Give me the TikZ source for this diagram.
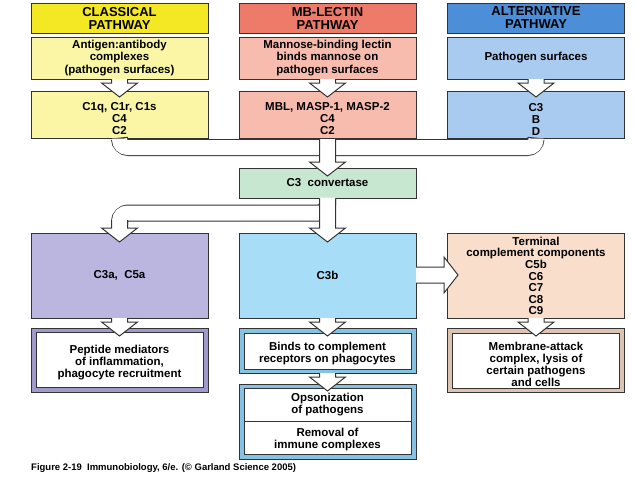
\documentclass[tikz,border=0pt]{standalone}
\usepackage{fontspec}
\setmainfont{Liberation Sans}
\begin{document}
\begin{tikzpicture}[x=1pt,y=-1pt,
 box/.style={draw=black!80,line width=1pt,minimum width=177pt,align=center,font=\bfseries\fontsize{11.5}{12.5}\selectfont,inner sep=1pt},
 hdr/.style={box,font=\bfseries\fontsize{13}{13}\selectfont,minimum height=30pt},
 txt/.style={align=center,font=\bfseries\fontsize{11.5}{12}\selectfont,inner sep=0pt},
 frame/.style={draw=black!80,line width=1pt,minimum width=177pt},
 inner/.style={draw=black!80,line width=0.8pt,fill=white,minimum width=167pt,align=center,font=\bfseries\fontsize{11.5}{12.5}\selectfont,inner sep=1pt}]
\definecolor{yh}{HTML}{F4E824}\definecolor{yl}{HTML}{FAF6A6}
\definecolor{rh}{HTML}{EE7B6A}\definecolor{rl}{HTML}{F8BCAE}
\definecolor{bh}{HTML}{4C8ED8}\definecolor{bl}{HTML}{AACBF0}
\definecolor{gl}{HTML}{C7E7D1}\definecolor{pl}{HTML}{BAB6E0}
\definecolor{cl}{HTML}{A8DDF7}\definecolor{ol}{HTML}{FADECC}
\definecolor{pf}{HTML}{9E9ACB}\definecolor{cf}{HTML}{86C2E4}\definecolor{of}{HTML}{DCC3B2}
\newcommand\blkdown[3]{\fill[white] (#1-8,#2)--(#1-8,#3-14)--(#1-18,#3-14)--(#1,#3)--(#1+18,#3-14)--(#1+8,#3-14)--(#1+8,#2)--cycle;
 \draw[line width=1pt,black!80,line join=miter] (#1-8,#2)--(#1-8,#3-14)--(#1-18,#3-14)--(#1,#3)--(#1+18,#3-14)--(#1+8,#3-14)--(#1+8,#2);}
\newcommand\blkright[3]{\fill[white] (#1,#2-8)--(#3-14,#2-8)--(#3-14,#2-18)--(#3,#2)--(#3-14,#2+18)--(#3-14,#2+8)--(#1,#2+8)--cycle;
 \draw[line width=1pt,black!80,line join=miter] (#1,#2-8)--(#3-14,#2-8)--(#3-14,#2-18)--(#3,#2)--(#3-14,#2+18)--(#3-14,#2+8)--(#1,#2+8);}
\useasboundingbox[fill=white] (0,0) rectangle (638,479);
% headers
\node[hdr,fill=yh] (h1) at (119.5,18) {CLASSICAL\\PATHWAY};
\node[hdr,fill=rh] (h2) at (327.5,18) {MB-LECTIN\\PATHWAY};
\node[hdr,fill=bh] (h3) at (536,18) {ALTERNATIVE\\PATHWAY};
% row 2
\node[box,fill=yl,minimum height=42pt] (a1) at (119.5,58) {Antigen:antibody\\complexes\\(pathogen surfaces)};
\node[box,fill=rl,minimum height=42pt] (a2) at (327.5,58) {Mannose-binding lectin\\binds mannose on\\pathogen surfaces};
\node[box,fill=bl,minimum height=42pt] (a3) at (536,58) {Pathogen surfaces};
% row 3
\node[box,fill=yl,minimum height=47pt] (b1) at (119.5,115) {};
\node[box,fill=rl,minimum height=47pt] (b2) at (327.5,115) {};
\node[box,fill=bl,minimum height=47pt] (b3) at (536,115) {};
\node[txt] (t1) at (119.5,119) {C1q, C1r, C1s\\C4\\C2};
\node[txt] (t2) at (327.5,119) {MBL, MASP-1, MASP-2\\C4\\C2};
\node[txt] (t3) at (536,119) {C3\\B\\D};
\blkdown{119.5}{79}{97}\blkdown{327.5}{79}{97}\blkdown{536}{79}{97}
% convertase
\node[box,fill=gl,minimum height=30pt] (cv) at (327.5,183) {C3\ \ convertase};
% bus 1
\draw[line width=17pt,black!80,rounded corners=9pt] (119.5,139)--(119.5,147.5)--(536,147.5)--(536,139);
\draw[line width=17pt,black!80] (327.5,139)--(327.5,150);
\draw[line width=15pt,white,rounded corners=8pt] (119.5,138.5)--(119.5,147.5)--(536,147.5)--(536,138.5);
\draw[line width=15pt,white] (327.5,138.5)--(327.5,150);
\blkdown{327.5}{139}{176}
% bottom row
\node[box,fill=pl,minimum height=85pt] (c1) at (119.5,275.5) {C3a,\ \ C5a};
\node[box,fill=cl,minimum height=85pt] (c2) at (327.5,275.5) {C3b};
\node[box,fill=ol,minimum height=85pt,font=\bfseries\fontsize{11.5}{11.6}\selectfont] (c3) at (536,276) {Terminal\\complement components\\C5b\\C6\\C7\\C8\\C9};
% bus 2
\draw[line width=17pt,black!80,rounded corners=9pt] (327.5,198.5)--(327.5,213)--(119.5,213)--(119.5,225);
\draw[line width=15pt,white,rounded corners=8pt] (327.5,197.5)--(327.5,213)--(119.5,213)--(119.5,226);
\blkdown{119.5}{220}{242}\blkdown{327.5}{198.5}{242}
\blkright{416}{275}{458}
% outputs
\node[frame,fill=pf,minimum height=64pt] (d1) at (119.5,360) {};
\node[inner,minimum height=55pt] (e1) at (119.5,360) {};
\node[txt] (f1) at (119.5,363) {Peptide mediators\\of inflammation,\\phagocyte recruitment};
\node[frame,fill=cf,minimum height=45pt] (d2) at (327.5,350.5) {};
\node[inner,minimum height=36pt] (e2) at (327.5,351.5) {};
\node[txt] (f2) at (327.5,354) {Binds to complement\\receptors on phagocytes};
\node[frame,fill=cf,minimum height=75pt] (d4) at (327.5,421.5) {};
\node[inner,minimum height=66pt] (e4) at (327.5,421.5) {};
\node[txt] (o1) at (327.5,405) {Opsonization\\of pathogens};
\node[txt] (o2) at (327.5,440) {Removal of\\immune complexes};
\draw[line width=0.8pt,black!80] (e4.west |- 0,421) -- (e4.east |- 0,421);
\node[frame,fill=of,minimum height=64pt] (d3) at (536,360) {};
\node[inner,minimum height=55pt] (e3) at (536,361) {};
\node[txt] (f3) at (536,364) {Membrane-attack\\complex, lysis of\\certain pathogens\\and cells};
\blkdown{119.5}{318}{336}\blkdown{327.5}{318}{336}\blkdown{536}{318}{336}
\blkdown{327.5}{373}{391}
\node[anchor=west,font=\bfseries\fontsize{9.5}{10}\selectfont,inner sep=0] (cap) at (31,468) {Figure 2-19\ \ Immunobiology, 6/e. (© Garland Science 2005)};
\end{tikzpicture}
\end{document}
